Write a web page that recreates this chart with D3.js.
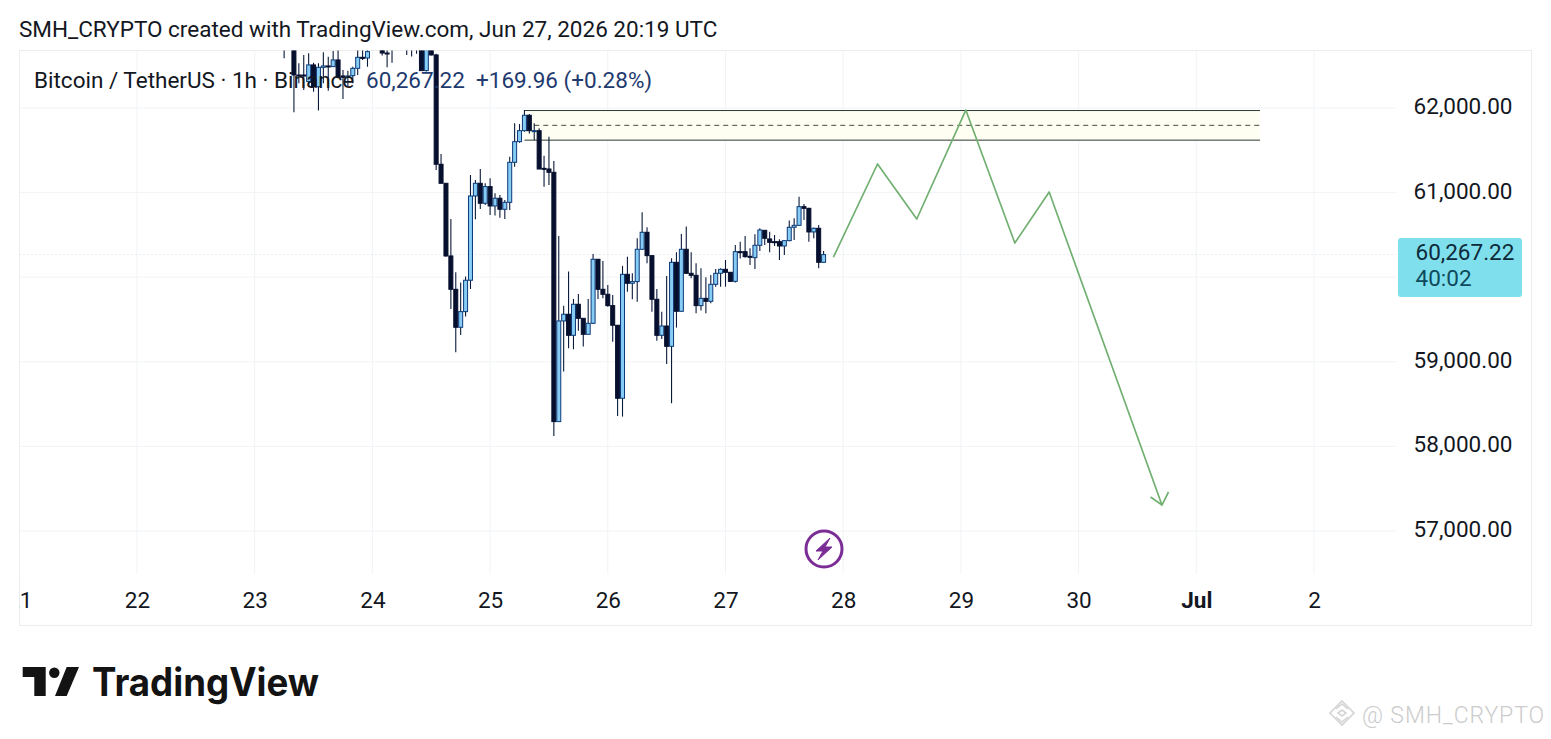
<!DOCTYPE html>
<html><head><meta charset="utf-8">
<script src="https://cdn.jsdelivr.net/npm/d3@7/dist/d3.min.js"></script>
<style>html,body{margin:0;padding:0;background:#fff;overflow:hidden}svg{display:block}text{font-family:Roboto,sans-serif}</style>
</head><body><svg id="c" width="1551" height="739"></svg>
<script>
const candleStart = "2026-06-23T06:00:00Z";
const opens = [62760,62720,62760,62390,62390,62312,62509,62252,62481,62497,62489,62568,62379,62363,62382,62469,62599,62591,
62700,62780,62680,62650,62760,62760,62750,62720,62720,62720,62800,62442,62800,62627,
61335,61110,60251,59857,59408,59593,59964,60960,61110,60874,
61071,60842,60933,60803,60885,61358,61602,61732,61914,61722,61732,61287,61279,61240,58293,59483,59562,59313,59680,59514,59325,59455,60212,59857,
59798,59664,59432,58569,60034,59928,59948,60330,60531,60255,59739,59313,59423,59183,60176,59597,60330,60046,60022,59664,59750,59715,59916,60046,60093,60058,
59951,60302,60302,60247,60231,60377,60554,60452,60420,60420,60369,60432,60590,60613,60834,60814,60535,60578,60176];
const highs = [62800,62800,62850,62528,62627,62646,62536,62528,62660,62607,62674,62700,62449,62440,62489,62700,62700,62700,
62850,62850,62720,62700,62800,62800,62800,62780,62780,62780,62850,62850,62850,62640,
61457,61110,60688,60058,59936,60007,61209,61149,61279,61110,
61169,60992,60972,60913,61425,61819,61811,61977,61930,61819,61760,61437,61660,61374,60487,59664,60066,59743,59802,59514,59743,60275,60212,60192,
59908,59790,59432,60133,60243,60046,60460,60767,60590,60255,59861,59593,60015,60223,60294,60511,60598,60294,60164,60105,60000,60026,60097,60105,60204,
60058,60381,60420,60487,60342,60507,60578,60558,60538,60499,60448,60432,60669,60696,60952,60866,60822,60586,60617,60310];
const lows = [62587,62700,61949,62292,62213,62272,62193,61969,62292,62205,62489,62351,62107,62260,62292,62390,62568,62489,
62700,62700,62620,62481,62536,62700,62700,62627,62610,62640,62442,62430,62620,61267,
61110,60243,59625,59112,59317,59534,59861,60684,60807,60854,
60736,60728,60704,60688,60795,61307,61590,61720,61700,61622,61275,61070,61090,58123,58293,58884,59160,59148,59368,59180,59325,59447,59743,59751,
59652,59238,58360,58352,59829,59739,59711,60322,60164,59593,59250,59270,58974,58509,59404,59593,60038,59987,59573,59605,59573,59691,59888,59888,59888,
59944,59936,60220,60231,60144,60097,60310,60381,60294,60369,60204,60263,60424,60440,60609,60676,60420,60460,60105,60172];
const closes = [62700,62760,62390,62379,62379,62509,62252,62481,62497,62489,62568,62363,62363,62379,62469,62599,62591,62666,
62780,62760,62650,62639,62740,62750,62720,62700,62700,62700,62442,62800,62627,61335,
61110,60251,59857,59408,59593,59964,60960,61110,60874,61071,
60842,60933,60803,60885,61358,61602,61732,61914,61732,61732,61279,61279,61240,58293,59483,59562,59313,59680,59514,59325,59455,60212,59857,59798,
59664,59432,58569,60034,59928,59948,60330,60531,60255,59739,59313,59423,59183,60176,59597,60330,60046,60022,59664,59750,59715,59916,60046,60093,60058,
59951,60302,60294,60243,60243,60377,60558,60460,60412,60416,60369,60432,60590,60613,60834,60814,60535,60578,60176,60267.22];

const priceTicks = [62000,61000,60000,59000,58000,57000];
const priceLabels = [62000,61000,59000,58000,57000];
const dayTicks = ["2026-06-21","2026-06-22","2026-06-23","2026-06-24","2026-06-25","2026-06-26","2026-06-27","2026-06-28","2026-06-29","2026-06-30","2026-07-01","2026-07-02"];
const zoneTop = 61970, zoneMid = 61795, zoneBottom = 61620;
const zoneFrom = "2026-06-25T07:00:00Z", zoneMidFrom = "2026-06-25T09:00:00Z", zoneTo = "2026-07-01T13:00:00Z";
const pathTimes = ["2026-06-27T22:00:00Z","2026-06-28T07:00:00Z","2026-06-28T15:00:00Z","2026-06-29T01:00:00Z","2026-06-29T11:00:00Z","2026-06-29T18:00:00Z","2026-06-30T17:00:00Z"];
const pathPrices = [60237,61338,60688,61976,60404,61007,57307];
const headTimes = ["2026-06-30T14:40:00Z","2026-06-30T17:00:00Z","2026-06-30T18:20:00Z"];
const headPrices = [57402,57307,57461];
const lastPrice = 60267.22;
const titleText = "SMH_CRYPTO created with TradingView.com, Jun 27, 2026 20:19 UTC";
const legendName = "Bitcoin / TetherUS · 1h · Binance";
const legendValues = "60,267.22  +169.96 (+0.28%)";

const svg = d3.select("#c");
const x = d3.scaleUtc().domain([new Date("2026-06-22T00:00:00Z"), new Date("2026-07-02T00:00:00Z")]).range([137,1314]);
const y = d3.scaleLinear().domain([62000,57000]).range([108,531]);
const L=19.5,R=1531.5,T=50.5,B=625.5,paneB=574,paneR=1396;
const FS=22.5;
const defs = svg.append("defs");
defs.append("clipPath").attr("id","pane").append("rect").attr("x",L).attr("y",T).attr("width",paneR-L).attr("height",paneB-T);
defs.append("clipPath").attr("id","frame").append("rect").attr("x",L).attr("y",T).attr("width",R-L).attr("height",B-T);

svg.append("text").attr("x",19).attr("y",37).attr("font-size",FS).attr("fill","#131722").text(titleText);
svg.append("rect").attr("x",L).attr("y",T).attr("width",R-L).attr("height",B-T).attr("fill","#fff").attr("stroke","#ececec");

// grid
const grid = svg.append("g").attr("clip-path","url(#pane)");
grid.selectAll(".h").data(priceTicks).join("line").attr("x1",L).attr("x2",paneR).attr("y1",d=>y(d)).attr("y2",d=>y(d)).attr("stroke","#f1f3f6");
grid.selectAll(".v").data(dayTicks).join("line").attr("x1",d=>x(new Date(d+"T00:00:00Z"))).attr("x2",d=>x(new Date(d+"T00:00:00Z"))).attr("y1",T).attr("y2",paneB).attr("stroke","#f1f3f6");
grid.append("line").attr("x1",L).attr("x2",paneR).attr("y1",y(lastPrice)).attr("y2",y(lastPrice)).attr("stroke","#c9dbe6").attr("stroke-dasharray","1 3");

const pane = svg.append("g").attr("clip-path","url(#pane)");
// zone
const zx0=x(new Date(zoneFrom)), zx1=x(new Date(zoneTo));
pane.append("rect").attr("x",zx0).attr("width",zx1-zx0).attr("y",y(zoneTop)).attr("height",y(zoneBottom)-y(zoneTop)).attr("fill","#fffef3");
pane.append("line").attr("x1",zx0).attr("x2",zx1).attr("y1",y(zoneTop)).attr("y2",y(zoneTop)).attr("stroke","#2c3a32").attr("stroke-width",1);
pane.append("line").attr("x1",zx0).attr("x2",zx1).attr("y1",y(zoneBottom)).attr("y2",y(zoneBottom)).attr("stroke","#2c3a32").attr("stroke-width",1);
pane.append("line").attr("x1",x(new Date(zoneMidFrom))).attr("x2",zx1).attr("y1",y(zoneMid)).attr("y2",y(zoneMid)).attr("stroke","#4a4a44").attr("stroke-dasharray","5 4");

// candles
const t0 = +new Date(candleStart);
const candles = opens.map((o,i)=>({t:new Date(t0+i*3600e3),o,h:highs[i],l:lows[i],c:closes[i]}));
const up = d=>d.c>=d.o;
const w=4;
pane.selectAll(".w").data(candles).join("line").attr("x1",d=>x(d.t)).attr("x2",d=>x(d.t)).attr("y1",d=>y(d.h)).attr("y2",d=>y(d.l)).attr("stroke","#0a1a3a").attr("stroke-width",1.1);
pane.selectAll(".b").data(candles).join("rect")
 .attr("x",d=>x(d.t)-w/2).attr("width",w)
 .attr("y",d=>y(Math.max(d.o,d.c))).attr("height",d=>Math.max(1,Math.abs(y(d.o)-y(d.c))))
 .attr("fill",d=>up(d)?"#86ccf4":"#060f2e").attr("stroke",d=>up(d)?"#0c3a78":"#060f2e").attr("stroke-width",1);

// projection
const line = d3.line().x(d=>x(new Date(d[0]))).y(d=>y(d[1]));
pane.append("path").attr("d",line(d3.zip(pathTimes,pathPrices))).attr("fill","none").attr("stroke","#72b072").attr("stroke-width",1.7).attr("stroke-linejoin","round");
pane.append("path").attr("d",line(d3.zip(headTimes,headPrices))).attr("fill","none").attr("stroke","#72b072").attr("stroke-width",1.7);

// price axis
const ya = d3.axisRight(y).tickValues(priceLabels).tickFormat(d3.format(",.2f")).tickSize(0);
const yg = svg.append("g").attr("transform","translate(1512.5,0)").call(ya);
yg.select(".domain").remove();
yg.selectAll("text").attr("x",0).attr("dy",null).attr("y",0).attr("text-anchor","end").attr("font-size",FS).attr("fill","#131722")
  .attr("font-family","Roboto").attr("transform","translate(0,5.5)");

// time axis
const xa = d3.axisBottom(x).tickValues(dayTicks.map(d=>new Date(d+"T00:00:00Z"))).tickSize(0)
 .tickFormat(d=>d.getUTCDate()===1?"Jul":String(d.getUTCDate()));
const xg = svg.append("g").attr("clip-path","url(#frame)").append("g").attr("transform","translate(0,588)").call(xa);
xg.select(".domain").remove();
xg.selectAll("text").attr("y",20).attr("dy",null).attr("font-size",FS).attr("fill","#131722").attr("font-family","Roboto")
  .attr("font-weight",d=>d.getUTCDate()===1?700:400);

// last price label
svg.append("rect").attr("x",1398).attr("y",238).attr("width",124).attr("height",59).attr("rx",3).attr("fill","#7fdfec");
svg.append("text").attr("x",1415.5).attr("y",260).attr("font-size",FS).attr("fill","#0c2a38").text(d3.format(",.2f")(lastPrice));
svg.append("text").attr("x",1415.5).attr("y",286).attr("font-size",FS).attr("fill","#0f4a5c").text("40:02");

// legend
svg.append("text").attr("x",34).attr("y",88).attr("font-size",FS).attr("fill","#131722").text(legendName);
svg.append("text").attr("x",366).attr("y",88).attr("font-size",FS).attr("fill","#1e3a6e").style("white-space","pre").text(legendValues);

// event icon
const ev = svg.append("g").attr("transform","translate(824,549)");
ev.append("circle").attr("r",18).attr("fill","#fff").attr("stroke","#7b2d96").attr("stroke-width",3);
ev.append("path").attr("d","M6,-11 L-8,2 L-1,2 L-6,11 L8,-2 L1,-2 Z").attr("fill","#7b2d96").attr("stroke","#7b2d96").attr("stroke-linejoin","round");

// logo
const lg = svg.append("g").attr("fill","#131313");
lg.append("path").attr("d","M22.7,667H45.7V696H34.3V677H22.7Z");
lg.append("circle").attr("cx",54.3).attr("cy",672.7).attr("r",5.2);
lg.append("path").attr("d","M66.7,667H79L66.7,696H55Z");
svg.append("text").attr("x",92).attr("y",696).style("font-family","Inter").attr("font-weight",700).attr("font-size",39).attr("fill","#131313")
  .attr("textLength",227).attr("lengthAdjust","spacingAndGlyphs").text("TradingView");

// watermark
const wm = svg.append("g").attr("fill","none").attr("stroke","#d4d4d4").attr("stroke-width",1.6);
wm.append("path").attr("d","M1342,701L1354,713L1342,725L1330,713Z");
wm.append("path").attr("d","M1336,709L1342,704L1348,709M1336,717L1342,722L1348,717M1338,713L1342,710L1346,713L1342,716Z");
svg.append("text").attr("x",1362).attr("y",723).attr("font-size",23).attr("font-weight",300).attr("fill","#cccccc").attr("textLength",182).text("@ SMH_CRYPTO");
</script></body></html>
